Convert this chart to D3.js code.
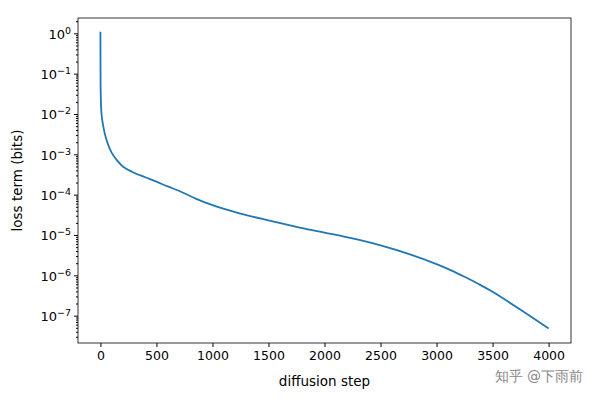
<!DOCTYPE html><html><head><script src="https://cdn.jsdelivr.net/npm/d3@7"></script>
<style>body{margin:0;background:#fff}text{font-family:"DejaVu Sans",sans-serif}</style></head><body>
<svg id="c" width="600" height="400"></svg>
<script>
const steps=[0,1,3,10,25,50,100,150,200,300,400,500,600,700,850,1000,1250,1500,1750,2000,2250,2500,2750,3000,3125,3250,3375,3500,3750,4000];
const loss=[1.1,0.15,0.03,0.01,0.005,0.0025,0.0011,0.0007,0.0005,0.00035,0.00027,0.00021,0.00016,0.000125,0.00008,0.000055,0.000034,0.000023,0.000016,0.0000115,0.0000082,0.0000055,0.0000034,0.0000019,0.00000135,0.00000092,0.00000061,0.00000039,0.00000014,0.000000048];
const xTicks=[0,500,1000,1500,2000,2500,3000,3500,4000];
const yTicks=[0,-1,-2,-3,-4,-5,-6,-7];
const svg=d3.select("#c");
const L=78,R=571,T=18,B=343;
const x=d3.scaleLinear().domain([-200,4200]).range([L,R]);
const y=d3.scaleLog().domain([2.1e-8,2.4]).range([B,T]);
const g=svg.append("g");
const xa=g.append("g").attr("transform",`translate(0,${B})`).call(d3.axisBottom(x).tickValues(xTicks).tickFormat(d3.format("d")).tickSize(4).tickPadding(4));
const ya=g.append("g").attr("transform",`translate(${L},0)`).call(d3.axisLeft(y).tickValues(yTicks.map(e=>Math.pow(10,e))).tickFormat(()=>"").tickSize(4));
const minors=[];for(let e=-8;e<=0;e++)for(let m=2;m<10;m++){const v=m*Math.pow(10,e);if(v>2.1e-8&&v<2.4)minors.push(v);}
g.append("g").attr("transform",`translate(${L},0)`).call(d3.axisLeft(y).tickValues(minors).tickFormat("").tickSize(2)).select(".domain").remove();
ya.selectAll(".tick").each(function(d,i){const t=d3.select(this).append("text").attr("x",-7).attr("dy","0.38em").attr("text-anchor","end").attr("fill","#000").style("font-size","13px");
t.append("tspan").text("10");t.append("tspan").attr("dy","-0.55em").style("font-size","9.5px").text(yTicks[i]===0?"0":"\u2212"+(-yTicks[i]));});
xa.selectAll("text").style("font-size","12.5px").attr("fill","#000");
svg.append("rect").attr("x",L).attr("y",T).attr("width",R-L).attr("height",B-T).attr("fill","none").attr("stroke","#000").attr("stroke-width",0.8);
svg.selectAll(".domain").attr("stroke","none");
svg.append("path").datum(steps.map((s,i)=>[s,loss[i]])).attr("fill","none").attr("stroke","#1f77b4").attr("stroke-width",1.8)
 .attr("d",d3.line().x(d=>x(d[0])).y(d=>y(d[1])).curve(d3.curveCatmullRom));
svg.append("text").attr("x",(L+R)/2).attr("y",386).attr("text-anchor","middle").style("font-size","13.5px").text("diffusion step");
svg.append("text").attr("transform",`translate(22,${(T+B)/2}) rotate(-90)`).attr("text-anchor","middle").style("font-size","13.5px").text("loss term (bits)");
svg.append("text").attr("x",583).attr("y",381).attr("text-anchor","end").style("font-size","14px").attr("fill","#888").attr("font-family","Noto Sans CJK SC").text("知乎 @下雨前");
</script></body></html>
